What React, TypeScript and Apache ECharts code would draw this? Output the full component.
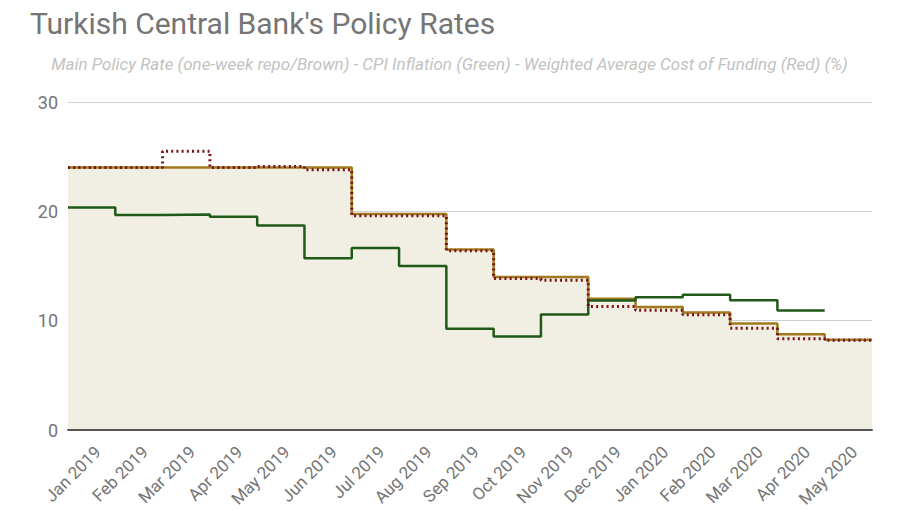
import React, { useEffect, useRef } from "react";
import * as echarts from "echarts";

const months = [
  "Jan 2019", "Feb 2019", "Mar 2019", "Apr 2019", "May 2019", "Jun 2019",
  "Jul 2019", "Aug 2019", "Sep 2019", "Oct 2019", "Nov 2019", "Dec 2019",
  "Jan 2020", "Feb 2020", "Mar 2020", "Apr 2020", "May 2020",
];
const policyRate = [24, 24, 24, 24, 24, 24, 19.75, 19.75, 16.5, 14, 14, 12, 11.25, 10.75, 9.75, 8.75, 8.25];
const cpiInflation = [20.35, 19.67, 19.71, 19.5, 18.71, 15.72, 16.65, 15.01, 9.26, 8.55, 10.56, 11.84, 12.15, 12.37, 11.86, 10.94];
const fundingCost = [24, 24, 25.5, 24, 24.1, 23.8, 19.6, 19.6, 16.4, 13.85, 13.7, 11.3, 10.95, 10.55, 9.3, 8.35, 8.2];
const yTicks = [0, 10, 20, 30];

const toSteps = (vals: number[]) => {
  const pts: [number, number][] = vals.map((v, i) => [i, v]);
  pts.push([vals.length, vals[vals.length - 1]]);
  return pts;
};

export default function App() {
  const ref = useRef<HTMLDivElement>(null);
  useEffect(() => {
    if (!ref.current) return;
    const chart = echarts.init(ref.current, null, { renderer: "svg" });
    const font = "Roboto";
    chart.setOption({
      animation: false,
      backgroundColor: "#ffffff",
      title: [
        {
          text: "Turkish Central Bank's Policy Rates",
          left: 25,
          top: 3,
          textStyle: { fontFamily: font, fontSize: 30, fontWeight: "normal", color: "#757575" },
        },
        {
          text: "Main Policy Rate (one-week repo/Brown) - CPI Inflation (Green) - Weighted Average Cost of Funding (Red) (%)",
          left: "center",
          top: 50,
          textStyle: { fontFamily: font, fontSize: 17, fontStyle: "italic", fontWeight: "normal", color: "#c2c2c2" },
        },
      ],
      grid: { left: 68, right: 27, top: 102, bottom: 80, containLabel: false, outerBoundsMode: "none" },
      xAxis: [
        {
          type: "category",
          data: months,
          boundaryGap: true,
          axisLine: { show: true, lineStyle: { color: "#555555", width: 2 } },
          axisTick: { show: false },
          axisLabel: {
            rotate: 45,
            interval: 0,
            margin: 13,
            verticalAlign: "top",
            fontFamily: font,
            fontSize: 17,
            color: "#757575",
          },
          splitLine: { show: false },
          z: 10,
        },
        {
          type: "value",
          min: 0,
          max: months.length,
          show: false,
        },
      ],
      yAxis: {
        type: "value",
        min: yTicks[0],
        max: yTicks[yTicks.length - 1],
        interval: 10,
        axisLine: { show: false },
        axisTick: { show: false },
        axisLabel: { fontFamily: font, fontSize: 18, color: "#757575", margin: 10 },
        splitLine: { lineStyle: { color: "#d0d0d0", width: 1 } },
      },
      series: [
        {
          name: "Main Policy Rate",
          type: "line",
          xAxisIndex: 1,
          step: "end",
          data: toSteps(policyRate),
          showSymbol: false,
          lineStyle: { color: "#a07a1c", width: 2.5 },
          areaStyle: { color: "#f1eee4", opacity: 1 },
          z: 2,
        },
        {
          name: "CPI Inflation",
          type: "line",
          xAxisIndex: 1,
          step: "end",
          data: toSteps(cpiInflation),
          showSymbol: false,
          lineStyle: { color: "#1f5a17", width: 2.5 },
          z: 3,
        },
        {
          name: "Weighted Average Cost of Funding",
          type: "line",
          xAxisIndex: 1,
          step: "end",
          data: toSteps(fundingCost),
          showSymbol: false,
          lineStyle: { color: "#7a1414", width: 3, type: [2, 3.2] },
          z: 4,
        },
      ],
    });
    return () => chart.dispose();
  }, []);
  return <div ref={ref} style={{ width: 899, height: 510, position: "absolute", left: 0, top: 0 }} />;
}
